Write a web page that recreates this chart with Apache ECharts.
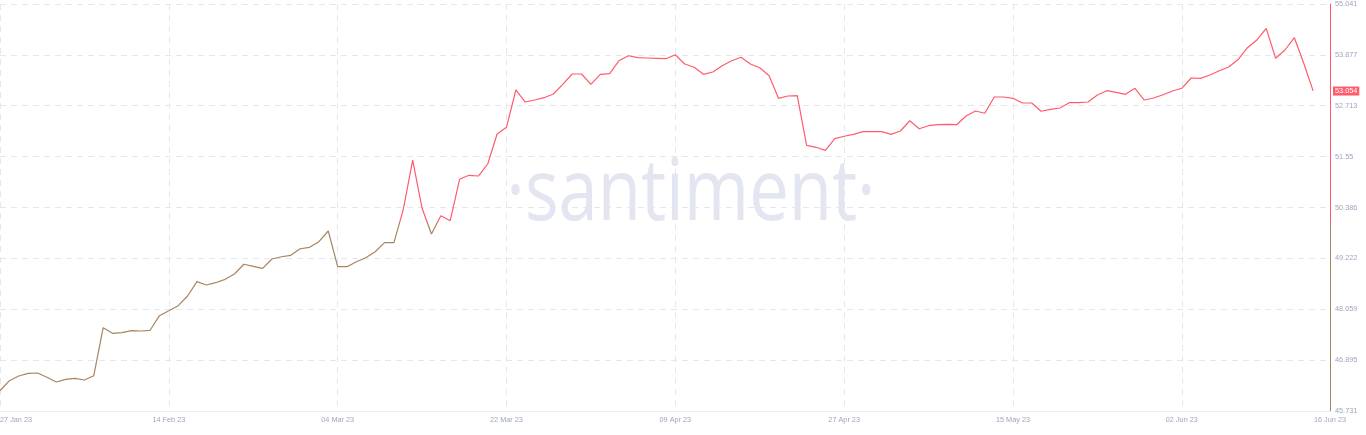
<!DOCTYPE html>
<html>
<head>
<meta charset="utf-8">
<script src="https://cdn.jsdelivr.net/npm/echarts@6/dist/echarts.min.js"></script>
<style>
html,body{margin:0;padding:0;background:#fff;}
#chart{width:1366px;height:435px;}
</style>
</head>
<body>
<div id="chart"></div>
<script>
// Day index 0 = 27 Jan 23, index 140 = 16 Jun 23 (daily)
const xTickIndex = [0, 18, 36, 54, 72, 90, 108, 126, 140];
const xTickLabels = ['27 Jan 23','14 Feb 23','04 Mar 23','22 Mar 23','09 Apr 23','27 Apr 23','15 May 23','02 Jun 23','16 Jun 23'];
const yTickLabels = ['45.731','46.895','48.059','49.222','50.386','51.55','52.713','53.877','55.041'];
const values = [
  46.195,46.424,46.531,46.593,46.600,46.502,46.394,46.456,46.479,46.440,
  46.538,47.636,47.508,47.522,47.568,47.561,47.577,47.911,48.025,48.140,
  48.361,48.689,48.613,48.666,48.743,48.865,49.087,49.041,48.995,49.208,
  49.260,49.292,49.443,49.475,49.604,49.848,49.032,49.032,49.146,49.238,
  49.375,49.581,49.581,50.345,51.472,50.368,49.780,50.198,50.084,51.031,
  51.123,51.106,51.381,52.067,52.221,53.074,52.799,52.845,52.898,52.982,
  53.204,53.440,53.440,53.204,53.433,53.447,53.744,53.858,53.813,53.806,
  53.799,53.790,53.881,53.668,53.593,53.433,53.485,53.630,53.744,53.822,
  53.668,53.584,53.401,52.884,52.936,52.943,51.809,51.763,51.694,51.960,
  52.015,52.060,52.120,52.120,52.120,52.060,52.136,52.371,52.188,52.257,
  52.280,52.289,52.280,52.479,52.593,52.541,52.914,52.914,52.884,52.776,
  52.776,52.587,52.632,52.662,52.783,52.783,52.799,52.959,53.058,53.021,
  52.975,53.113,52.845,52.891,52.966,53.051,53.113,53.348,53.341,53.417,
  53.515,53.600,53.771,54.041,54.217,54.485,53.799,53.989,54.270,53.685,
  53.054
];
const lastValue = 53.054;
const colorThreshold = 50.05;

const RED = '#ff5b6b';
const BROWN = '#a8845f';
const yMin = 45.731, yMax = 55.041;

const chart = echarts.init(document.getElementById('chart'));
const gridTop = 4, gridBottom = 24;
const axisTopPx = gridTop, axisBottomPx = 435 - gridBottom;
const stopFrac = (yMax - colorThreshold) / (yMax - yMin);

function splitGradient() {
  return new echarts.graphic.LinearGradient(0, axisTopPx, 0, axisBottomPx, [
    { offset: 0, color: RED },
    { offset: stopFrac, color: RED },
    { offset: stopFrac, color: BROWN },
    { offset: 1, color: BROWN }
  ], true);
}

chart.setOption({
  animation: false,
  backgroundColor: '#ffffff',
  grid: { left: 0, right: 36, top: gridTop, bottom: gridBottom, containLabel: false, outerBoundsMode: 'none' },
  graphic: [{
    type: 'text',
    x: 691,
    y: 152,
    silent: true,
    z: 0,
    scaleX: 0.82,
    style: {
      text: '\u00B7santiment\u00B7',
      fontFamily: 'Open Sans',
      fontWeight: 'normal',
      fontSize: 86,
      fill: '#e3e5f0',
      align: 'center',
      verticalAlign: 'top'
    }
  }],
  xAxis: {
    type: 'value',
    min: 0,
    max: 141.8,
    interval: 18,
    axisLine: { show: true, onZero: false, lineStyle: { color: '#eceef2', width: 1 } },
    axisTick: { show: false },
    splitLine: { show: true, lineStyle: { color: '#e6e7ec', type: [6, 5], width: 1 } },
    axisLabel: {
      show: true,
      showMinLabel: true,
      showMaxLabel: true,
      alignMinLabel: 'left',
      margin: 5,
      color: '#9ea6bd',
      fontSize: 7.3,
      fontFamily: 'Liberation Sans, Arial, sans-serif',
      formatter: function (v) {
        if (Math.abs(v - 141.8) < 0.01) return xTickLabels[xTickLabels.length - 1];
        const k = xTickIndex.indexOf(Math.round(v));
        return k >= 0 ? xTickLabels[k] : '';
      }
    }
  },
  yAxis: {
    type: 'value',
    position: 'right',
    min: yMin,
    max: yMax,
    interval: (yMax - yMin) / 8,
    axisLine: { show: true, onZero: false, lineStyle: { width: 1, color: splitGradient() } },
    axisTick: { show: false },
    splitLine: { show: true, lineStyle: { color: '#e6e7ec', type: [6, 5], width: 1 } },
    axisLabel: {
      margin: 5,
      color: '#9ea6bd',
      fontSize: 7.3,
      fontFamily: 'Liberation Sans, Arial, sans-serif',
      formatter: function (v) {
        const k = Math.round((v - yMin) / ((yMax - yMin) / 8));
        return yTickLabels[k] !== undefined ? yTickLabels[k] : '';
      }
    }
  },
  series: [{
    type: 'line',
    data: values.map((v, i) => [i, v]),
    showSymbol: false,
    symbol: 'none',
    lineStyle: { width: 1.2, color: splitGradient() },
    z: 3,
    markLine: {
      silent: true,
      symbol: 'none',
      lineStyle: { color: 'rgba(0,0,0,0)', width: 0, type: 'solid' },
      data: [{ yAxis: lastValue }],
      label: {
        show: true,
        position: 'end',
        distance: 3,
        formatter: function () { return lastValue.toFixed(3); },
        color: '#ffffff',
        backgroundColor: RED,
        padding: [1, 2, 1, 2],
        fontSize: 7.3,
        fontFamily: 'Liberation Sans, Arial, sans-serif'
      }
    }
  }]
});
</script>
</body>
</html>
